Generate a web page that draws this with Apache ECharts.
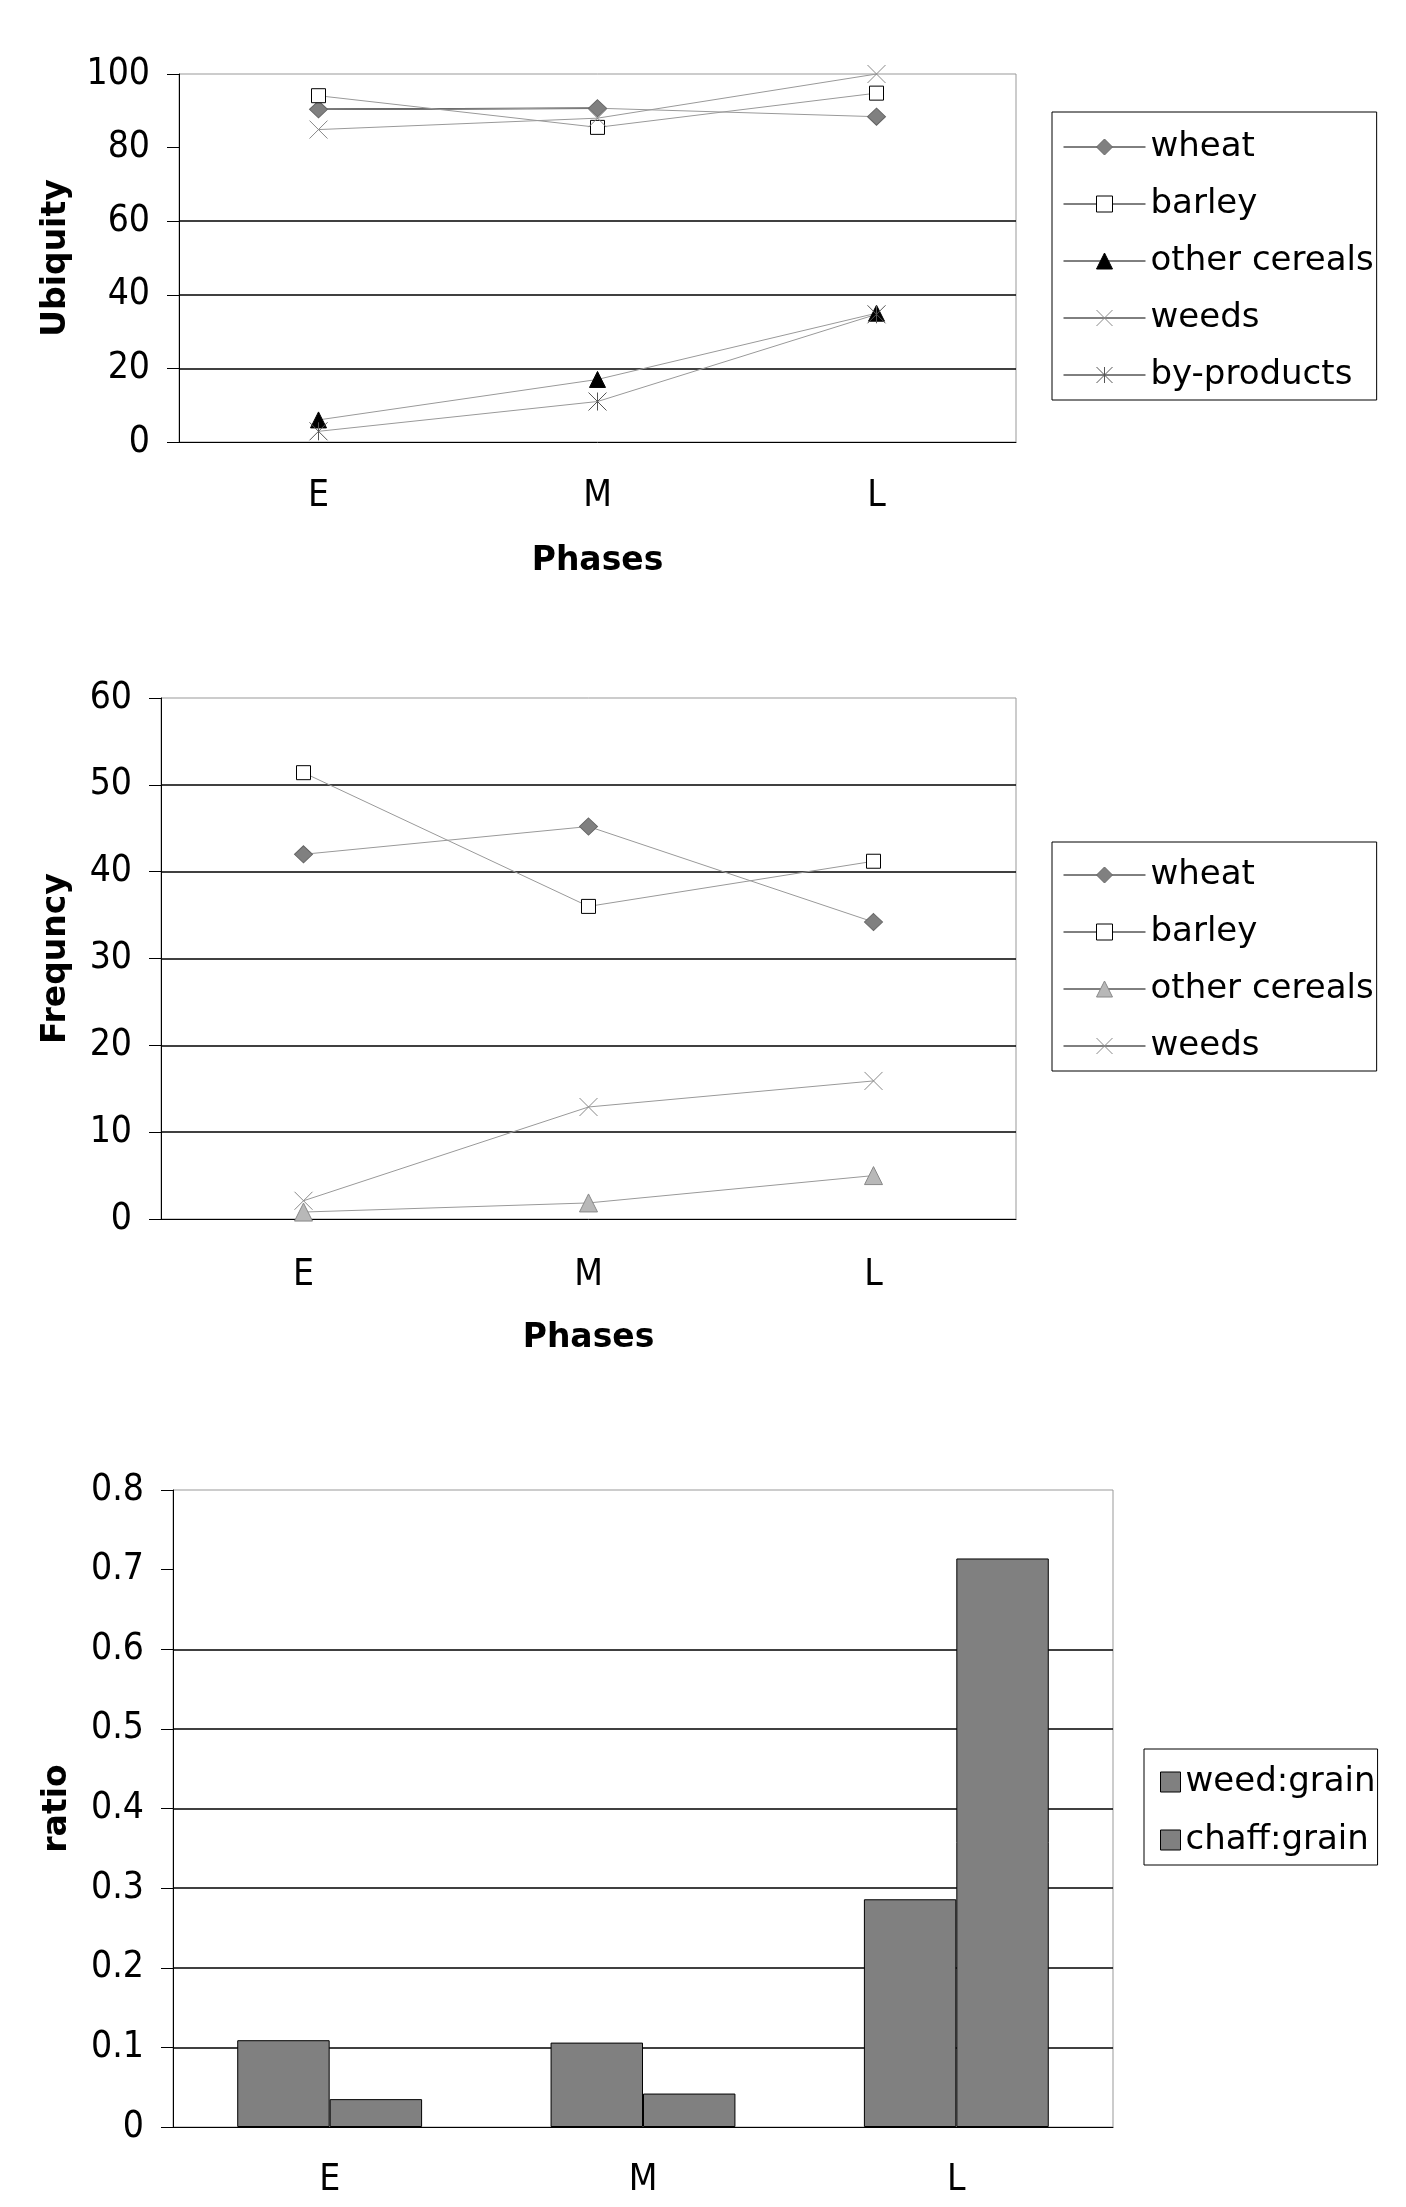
<!DOCTYPE html>
<html>
<head>
<meta charset="utf-8">
<script src="https://cdn.jsdelivr.net/npm/echarts@6/dist/echarts.min.js"></script>
<style>
    html, body { margin:0; padding:0; background:#fff; }
    #ubiquity_con { position:absolute; left:0; top:0; width:1406px; height:640px; }
    #frequency_con { position:absolute; left:0; top:640px; width:1406px; height:780px; }
    #ratio_con { position:absolute; left:0; top:1420px; width:1406px; height:787px; }
</style>
</head>
<body>
<div id="ubiquity_con"></div>
<div id="frequency_con"></div>
<div id="ratio_con"></div>
<script>
    // phases on the x axis
    var phases = ['E', 'M', 'L'];

    // ubiquity (%)
    var ubiqWheat = [90.4, 90.7, 88.4];
    var ubiqBarley = [94.1, 85.5, 94.8];
    var ubiqOtherCereals = [6, 17, 35];
    var ubiqWeeds = [84.9, 88, 100];
    var ubiqByProducts = [2.9, 11, 34.7];
    var ubiqGridLines = [20, 40, 60];

    // frequency
    var freqWheat = [42, 45.2, 34.2];
    var freqBarley = [51.4, 36, 41.2];
    var freqOtherCereals = [0.8, 1.85, 5];
    var freqWeeds = [2.1, 12.9, 15.9];
    var freqGridLines = [10, 20, 30, 40, 50];

    // ratios
    var ratioWeedGrain = [0.109, 0.106, 0.286];
    var ratioChaffGrain = [0.035, 0.042, 0.714];
    var ratioGridLines = [0.1, 0.2, 0.3, 0.4, 0.5, 0.6];

    var FONT = 'DejaVu Sans';
    var NUM_FONT = '"DejaVu Sans Condensed", "DejaVu Sans"';
    var CROSS = 'path://M0,0L10,10M10,0L0,10';
    var STAR = 'path://M0,0L10,10M10,0L0,10M5,0L5,10';

    function titleStyle() {
        return { fontFamily: FONT, fontWeight: 'bold', fontSize: 33, color: '#000' };
    }

    function catAxis(margin, name, nameGap) {
        return {
            type: 'category',
            data: phases,
            boundaryGap: true,
            axisLine: { lineStyle: { color: '#000', width: 1 } },
            axisTick: { length: 12, lineStyle: { color: '#000' } },
            axisLabel: { margin: margin, fontFamily: NUM_FONT, fontSize: 37, color: '#000' },
            name: name,
            nameLocation: 'middle',
            nameGap: nameGap,
            nameTextStyle: titleStyle()
        };
    }

    function valAxis(max, interval, name, nameGap) {
        return {
            type: 'value',
            min: 0,
            max: max,
            interval: interval,
            name: name,
            nameLocation: 'middle',
            nameGap: nameGap,
            nameTextStyle: titleStyle(),
            axisLine: { show: true, lineStyle: { color: '#000', width: 1 } },
            axisTick: { show: true, length: 12, lineStyle: { color: '#000' } },
            axisLabel: { margin: 29, fontFamily: NUM_FONT, fontSize: 37, color: '#000' },
            splitLine: { show: false }
        };
    }

    function gridMarkLine(values) {
        return {
            silent: true,
            symbol: 'none',
            z: 1,
            label: { show: false },
            emphasis: { disabled: true },
            lineStyle: { color: '#000', width: 1.5, type: 'solid', opacity: 1 },
            data: values.map(function (v) { return { yAxis: v }; })
        };
    }

    function lineSeries(name, data, symbol, size, itemStyle) {
        return {
            name: name,
            type: 'line',
            data: data,
            symbol: symbol,
            symbolSize: size,
            lineStyle: { color: '#999', width: 1 },
            itemStyle: itemStyle,
            emphasis: { disabled: true },
            z: 3
        };
    }

    function legendBox(left, top, names, padding) {
        return {
            orient: 'vertical',
            left: left,
            top: top,
            padding: padding,
            borderColor: '#000',
            borderWidth: 1,
            itemWidth: 82,
            itemHeight: 20,
            itemGap: 21,
            selectedMode: false,
            textStyle: { fontFamily: FONT, fontSize: 34, color: '#000', lineHeight: 36 },
            lineStyle: { color: '#000', width: 1 },
            itemStyle: { borderWidth: 1 },
            data: names
        };
    }

    var wheatStyle = { color: '#808080', borderColor: '#666', borderWidth: 1 };
    var barleyStyle = { color: '#fff', borderColor: '#000', borderWidth: 1 };
    var weedsStyle = { color: 'rgba(0,0,0,0)', borderColor: '#888', borderWidth: 1 };

    // chart 1 - ubiquity
    var ubiqSeries = [
        lineSeries('wheat', ubiqWheat, 'diamond', [18, 17], wheatStyle),
        lineSeries('barley', ubiqBarley, 'rect', 14, barleyStyle),
        lineSeries('other cereals', ubiqOtherCereals, 'triangle', [16, 16], { color: '#000', borderColor: '#000', borderWidth: 1 }),
        lineSeries('weeds', ubiqWeeds, CROSS, 18, weedsStyle),
        lineSeries('by-products', ubiqByProducts, STAR, 18, { color: 'rgba(0,0,0,0)', borderColor: '#555', borderWidth: 1 })
    ];
    ubiqSeries[0].markLine = gridMarkLine(ubiqGridLines);
    // the E-M wheat segment is printed dark in the original
    ubiqSeries.push({
        name: 'wheat-em',
        type: 'line',
        data: [ubiqWheat[0], ubiqWheat[1], null],
        symbol: 'none',
        lineStyle: { color: '#000', width: 1.5 },
        emphasis: { disabled: true },
        z: 2
    });

    var ubiqChart = echarts.init(document.getElementById('ubiquity_con'));
    ubiqChart.setOption({
        animation: false,
        grid: { left: 179, right: 390, top: 74, bottom: 198, show: true, borderColor: '#999', borderWidth: 1 },
        legend: legendBox(1052, 112, ['wheat', 'barley', 'other cereals', 'weeds', 'by-products'], [17, 3, 7, 11]),
        xAxis: catAxis(36, 'Phases', 103),
        yAxis: valAxis(100, 20, 'Ubiquity', 106),
        series: ubiqSeries
    });

    // chart 2 - frequency
    var freqSeries = [
        lineSeries('wheat', freqWheat, 'diamond', [18, 17], wheatStyle),
        lineSeries('barley', freqBarley, 'rect', 14, barleyStyle),
        lineSeries('other cereals', freqOtherCereals, 'triangle', [18, 18], { color: '#b8b8b8', borderColor: '#888', borderWidth: 1 }),
        lineSeries('weeds', freqWeeds, CROSS, 18, weedsStyle)
    ];
    freqSeries[0].markLine = gridMarkLine(freqGridLines);

    var freqChart = echarts.init(document.getElementById('frequency_con'));
    freqChart.setOption({
        animation: false,
        grid: { left: 161, right: 390, top: 58, bottom: 201, show: true, borderColor: '#999', borderWidth: 1 },
        legend: legendBox(1052, 202, ['wheat', 'barley', 'other cereals', 'weeds'], [15, 3, 7, 11]),
        xAxis: catAxis(38, 'Phases', 103),
        yAxis: valAxis(60, 10, 'Frequncy', 88),
        series: freqSeries
    });

    // chart 3 - ratios
    var barStyle = { color: '#808080', borderColor: '#000', borderWidth: 1 };
    var ratioChart = echarts.init(document.getElementById('ratio_con'));
    var ratioLegend = legendBox(1144, 329, ['weed:grain', 'chaff:grain'], [15, 2, 7, 16]);
    ratioLegend.icon = 'rect';
    ratioLegend.itemWidth = 20;
    ratioLegend.itemHeight = 20;
    ratioLegend.itemGap = 22;
    ratioChart.setOption({
        animation: false,
        grid: { left: 173, right: 293, top: 70, bottom: 80, show: true, borderColor: '#999', borderWidth: 1 },
        legend: ratioLegend,
        xAxis: catAxis(35, '', 0),
        yAxis: valAxis(0.8, 0.1, 'ratio', 99),
        series: [
            {
                name: 'weed:grain', type: 'bar', data: ratioWeedGrain,
                barGap: '0%', barCategoryGap: '41%',
                itemStyle: barStyle, emphasis: { disabled: true }, z: 2,
                markLine: gridMarkLine(ratioGridLines)
            },
            {
                name: 'chaff:grain', type: 'bar', data: ratioChaffGrain,
                barGap: '0%', barCategoryGap: '41%',
                itemStyle: barStyle, emphasis: { disabled: true }, z: 2
            }
        ]
    });
</script>
</body>
</html>
